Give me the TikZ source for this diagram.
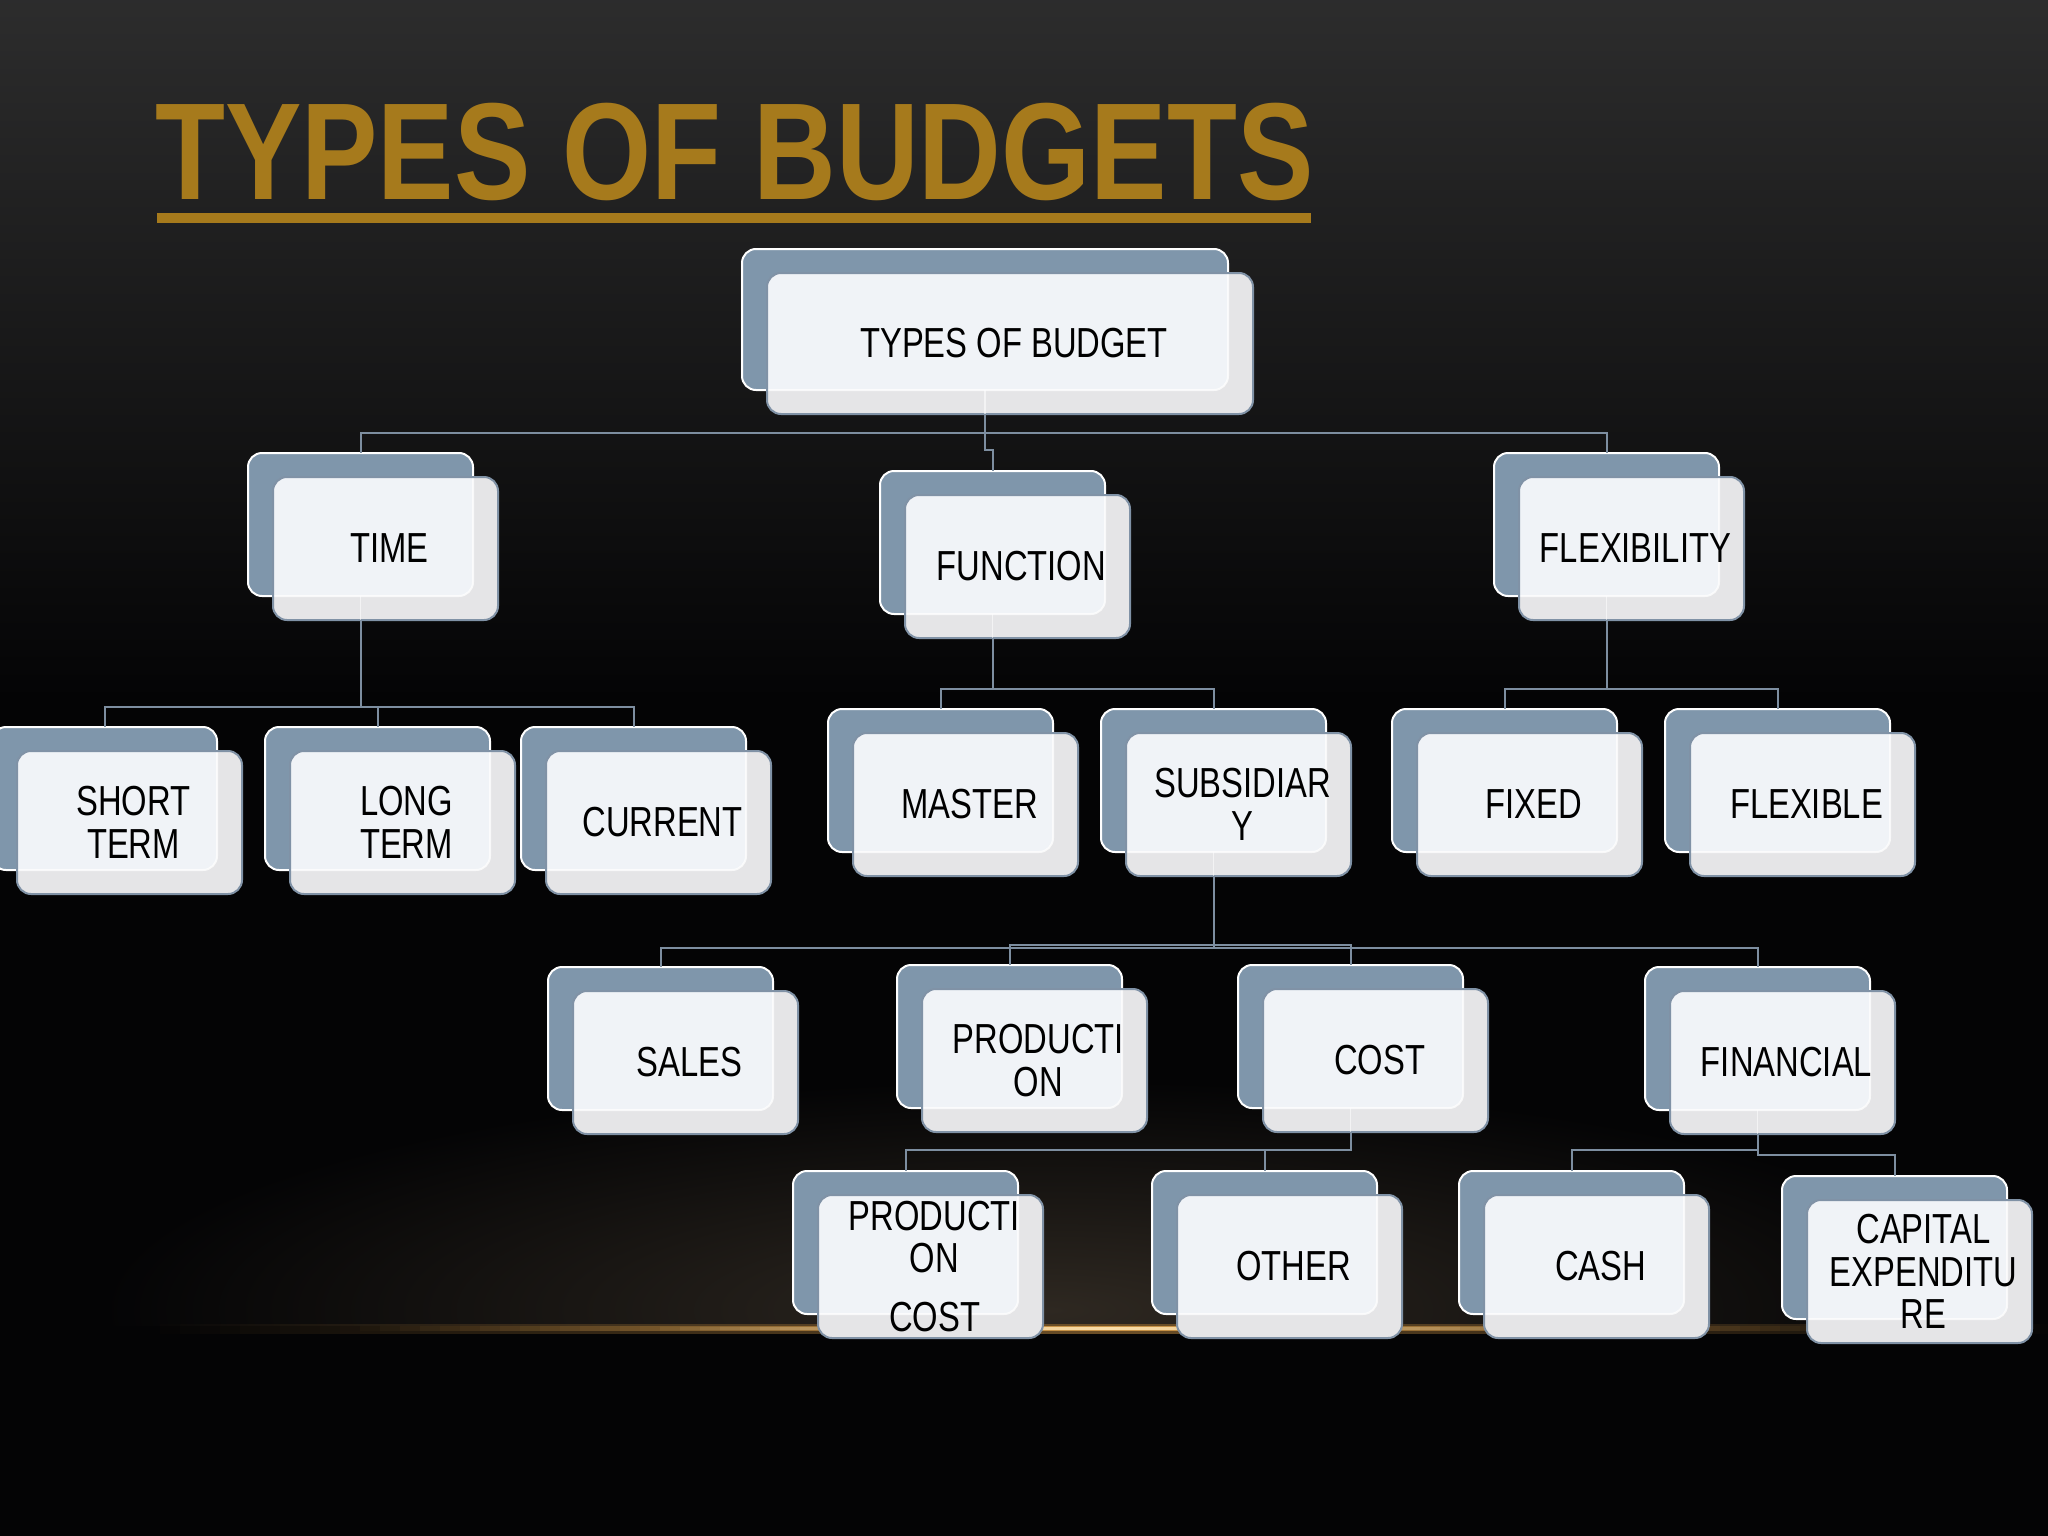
\documentclass[tikz,border=0pt]{standalone}
\usepackage{fontspec}
\newfontfamily\boxfont[FakeStretch=0.78]{Liberation Sans}
\newfontfamily\titlefont[FakeStretch=0.83]{Liberation Sans}
\definecolor{bgtop}{RGB}{56,56,56}
\definecolor{bgbot}{RGB}{4,4,5}
\definecolor{gold}{RGB}{166,122,28}
\definecolor{backblue}{RGB}{127,150,171}
\definecolor{frontlight}{RGB}{240,243,247}
\definecolor{frontgray}{RGB}{229,229,231}
\definecolor{frontedge}{RGB}{128,146,166}
\definecolor{connblue}{RGB}{125,142,160}
\definecolor{glowcore}{RGB}{250,222,170}
\definecolor{glowmid}{RGB}{205,150,72}
\definecolor{glowdim}{RGB}{110,80,40}
\definecolor{hazec}{RGB}{46,40,33}
\pgfdeclareradialshading{haze}{\pgfpoint{0bp}{0bp}}{color(0bp)=(hazec); color(25bp)=(bgbot); color(50bp)=(bgbot)}
\newcommand\budgetbox[6]{%
  \node[backbox, minimum width=#4pt, minimum height=#5pt] (#1) at (#2,#3) {};
  \node[frontbox, minimum width=#4pt, minimum height=#5pt] (#1-f) at ([xshift=25pt,yshift=-24pt]#1.north west) {};
  \begin{scope}
    \clip[rounded corners=14pt] (#1-f.south west) rectangle (#1-f.north east);
    \fill[frontlight, rounded corners=14pt] (#1.south west) rectangle (#1.north east);
    \draw[white, opacity=0.75, line width=2pt, rounded corners=14pt] (#1.south west) rectangle (#1.north east);
  \end{scope}
  \draw[frontedge, line width=2pt, rounded corners=14pt] (#1-f.south west) rectangle (#1-f.north east);
  \node[boxtext] (#1-t) at ([xshift=4pt]#1-f.center) {#6};
}
\begin{document}
\begin{tikzpicture}[x=1pt,y=-1pt,
  backbox/.style={rectangle, rounded corners=14pt, fill=backblue, draw=white, line width=2pt, inner sep=0pt, outer sep=0pt, anchor=north west},
  frontbox/.style={rectangle, rounded corners=14pt, fill=frontgray, draw=none, inner sep=0pt, outer sep=0pt, anchor=north west},
  boxtext/.style={inner sep=0pt, align=center, text=black, font=\boxfont\fontsize{42}{42.5}\selectfont},
  conn/.style={draw=connblue, line width=2pt},
  stemhl/.style={draw=white, opacity=0.55, line width=1.5pt}]
\useasboundingbox (0,0) rectangle (2048,1536);
% background
\fill[bgbot] (0,0) rectangle (2048,1536);
\shade[top color=bgtop, bottom color=bgbot] (0,-200) rectangle (2048,700);
\begin{scope}
  \clip (0,0) rectangle (2048,1325);
  \shade[shading=haze] (1050,1310) ellipse [x radius=950pt, y radius=230pt];
\end{scope}
% golden light line, built from strips of falling opacity
\foreach \i in {-47,...,47} {
  \pgfmathsetmacro\op{max(0,1-abs(\i)/48)}
  \fill[glowdim, opacity=\op] ({1110+\i*20-10},1323.5) rectangle ({1110+\i*20+10},1333.5);
}
\foreach \i in {-37,...,37} {
  \pgfmathsetmacro\op{max(0,1-abs(\i)/38)}
  \fill[glowmid, opacity=\op] ({1110+\i*20-10},1325.8) rectangle ({1110+\i*20+10},1331.2);
}
\foreach \i in {-22,...,22} {
  \pgfmathsetmacro\op{max(0,1-abs(\i)/23)}
  \fill[glowcore, opacity=\op] ({1110+\i*20-10},1327.4) rectangle ({1110+\i*20+10},1329.7);
}
% title
\node[anchor=base west, inner sep=0pt, text=gold, font=\titlefont\bfseries\fontsize{138}{140}\selectfont] (title) at (155,199) {TYPES OF BUDGETS};
\fill[gold] (157,212.5) rectangle (1311,222.5);
% boxes
\budgetbox{root}{742}{249}{486}{141}{TYPES OF BUDGET}
\budgetbox{time}{248}{453}{225}{143}{TIME}
\budgetbox{func}{880}{471}{225}{143}{FUNCTION}
\budgetbox{flex}{1494}{453}{225}{143}{FLEXIBILITY}
\budgetbox{short}{-8}{727}{225}{143}{SHORT\\TERM}
\budgetbox{long}{265}{727}{225}{143}{LONG\\TERM}
\budgetbox{current}{521}{727}{225}{143}{CURRENT}
\budgetbox{master}{828}{709}{225}{143}{MASTER}
\budgetbox{subsid}{1101}{709}{225}{143}{SUBSIDIAR\\Y}
\budgetbox{fixed}{1392}{709}{225}{143}{FIXED}
\budgetbox{flexible}{1665}{709}{225}{143}{FLEXIBLE}
\budgetbox{sales}{548}{967}{225}{143}{SALES}
\budgetbox{prod}{897}{965}{225}{143}{PRODUCTI\\ON}
\budgetbox{cost}{1238}{965}{225}{143}{COST}
\budgetbox{fin}{1645}{967}{225}{143}{FINANCIAL}
\budgetbox{prodcost}{793}{1171}{225}{143}{PRODUCTI\\ON\\[16pt]COST}
\budgetbox{other}{1152}{1171}{225}{143}{OTHER}
\budgetbox{cash}{1459}{1171}{225}{143}{CASH}
\budgetbox{capital}{1782}{1176}{225}{143}{CAPITAL\\EXPENDITU\\RE}
% bus levels
\coordinate (r1) at (0,433);
\coordinate (t1) at (0,707);
\coordinate (f1) at (0,689);
\coordinate (s1) at (0,945);
\coordinate (s2) at (0,948);
\coordinate (c1) at (0,1150);
\coordinate (c2) at (0,1155);
% stems seen through the front boxes
\foreach \p in {root,time,func,flex,subsid,cost,fin}
  \draw[stemhl] (\p.south) -- (\p.south |- \p-f.south);
% connectors
\draw[conn] (root.south |- root-f.south) -- (root.south |- r1);
\draw[conn] (time.north) -- (time.north |- r1) -- (flex.north |- r1) -- (flex.north);
\draw[conn] (root.south |- r1) -- ++(0,17) -| (func.north);
\draw[conn] (time.south |- time-f.south) -- (time.south |- t1);
\draw[conn] (short.north) |- (current.north |- t1) -- (current.north);
\draw[conn] (long.north) -- (long.north |- t1);
\draw[conn] (func.south |- func-f.south) -- (func.south |- f1);
\draw[conn] (master.north) |- (subsid.north |- f1) -- (subsid.north);
\draw[conn] (flex.south |- flex-f.south) -- (flex.south |- f1);
\draw[conn] (fixed.north) |- (flexible.north |- f1) -- (flexible.north);
\draw[conn] (subsid.south |- subsid-f.south) -- (subsid.south |- s2);
\draw[conn] (prod.north) |- (cost.north |- s1) -- (cost.north);
\draw[conn] (sales.north) |- (fin.north |- s2) -- (fin.north);
\draw[conn] (cost.south |- cost-f.south) -- (cost.south |- c1) -| (prodcost.north);
\draw[conn] (other.north) -- (other.north |- c1);
\draw[conn] (fin.south |- fin-f.south) -- (fin.south |- c2) -| (capital.north);
\draw[conn] (cash.north) |- (fin.south |- c1);
\end{tikzpicture}
\end{document}
